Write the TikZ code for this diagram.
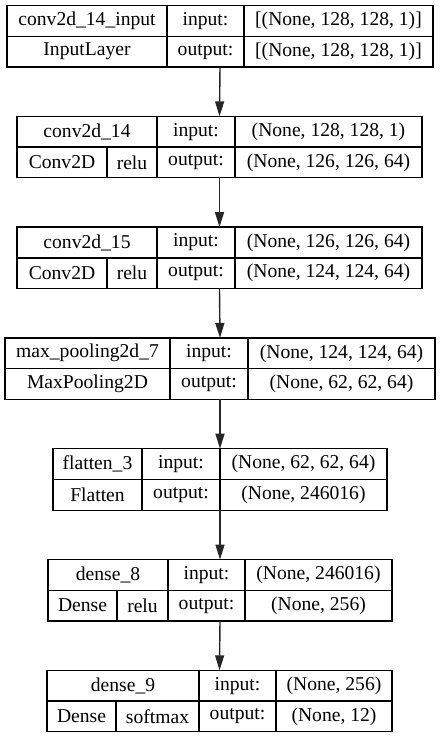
\documentclass[tikz,border=0pt]{standalone}
\usepackage{fontspec}
\setmainfont{Liberation Serif}
\usetikzlibrary{arrows.meta}

\tikzset{
  cell/.style={draw=black, line width=1.25pt, inner sep=0pt, outer sep=0pt,
               minimum height=30.75pt},
  frame/.style={draw=black, line width=1.25pt, inner sep=0pt, outer sep=0pt,
                minimum height=61.5pt},
  flow/.style={draw=black!85, line width=1.4pt, -{Triangle[length=15pt,width=9pt]}}
}

\begin{document}
\begin{tikzpicture}[x=1pt, y=-1pt, font=\rmfamily\fontsize{19.6}{22}\selectfont]
\useasboundingbox (0,0) rectangle (440,737);
%\draw [lightgray](0,0) grid[step=20] (440,737);

% input layer
\node [frame, minimum width=426pt] (inp) at (220,36.25){};
\node [cell, minimum width=160pt] (inp-n) at ( 87,20.9){conv2d\_14\_input};
\node [cell, minimum width= 77pt] (inp-i) at (205.5,20.9){input:};
\node [cell, minimum width=189pt] (inp-is) at (338.5,20.9){[(None, 128, 128, 1)]};
\node [cell, minimum width=160pt] (inp-t) at ( 87,51.6){InputLayer};
\node [cell, minimum width= 77pt] (inp-o) at (205.5,51.6){output:};
\node [cell, minimum width=189pt] (inp-os) at (338.5,51.6){[(None, 128, 128, 1)]};

% conv2d_14
\node [frame, minimum width=405pt] (cva) at (219.5,147.05){};
\node [cell, minimum width=140pt] (cva-n) at ( 87,131.7){conv2d\_14};
\node [cell, minimum width= 78pt] (cva-i) at (196,131.7){input:};
\node [cell, minimum width=187pt] (cva-is) at (328.5,131.7){(None, 128, 128, 1)};
\node [cell, minimum width= 90pt] (cva-t) at ( 62,162.4){Conv2D};
\node [cell, minimum width= 50pt] (cva-a) at (132,162.4){relu};
\node [cell, minimum width= 78pt] (cva-o) at (196,162.4){output:};
\node [cell, minimum width=187pt] (cva-os) at (328.5,162.4){(None, 126, 126, 64)};

% conv2d_15
\node [frame, minimum width=405pt] (cvb) at (219.5,257.85){};
\node [cell, minimum width=140pt] (cvb-n) at ( 87,242.5){conv2d\_15};
\node [cell, minimum width= 78pt] (cvb-i) at (196,242.5){input:};
\node [cell, minimum width=187pt] (cvb-is) at (328.5,242.5){(None, 126, 126, 64)};
\node [cell, minimum width= 90pt] (cvb-t) at ( 62,273.2){Conv2D};
\node [cell, minimum width= 50pt] (cvb-a) at (132,273.2){relu};
\node [cell, minimum width= 78pt] (cvb-o) at (196,273.2){output:};
\node [cell, minimum width=187pt] (cvb-os) at (328.5,273.2){(None, 124, 124, 64)};

% max_pooling2d_7
\node [frame, minimum width=430pt] (pool) at (220,368.65){};
\node [cell, minimum width=165pt] (pool-n) at ( 87.5,353.3){max\_pooling2d\_7};
\node [cell, minimum width= 78pt] (pool-i) at (209,353.3){input:};
\node [cell, minimum width=187pt] (pool-is) at (341.5,353.3){(None, 124, 124, 64)};
\node [cell, minimum width=165pt] (pool-t) at ( 87.5,384.0){MaxPooling2D};
\node [cell, minimum width= 78pt] (pool-o) at (209,384.0){output:};
\node [cell, minimum width=187pt] (pool-os) at (341.5,384.0){(None, 62, 62, 64)};

% flatten_3
\node [frame, minimum width=334pt] (flat) at (220,479.45){};
\node [cell, minimum width= 89pt] (flat-n) at ( 97.5,464.1){flatten\_3};
\node [cell, minimum width= 78pt] (flat-i) at (181,464.1){input:};
\node [cell, minimum width=167pt] (flat-is) at (303.5,464.1){(None, 62, 62, 64)};
\node [cell, minimum width= 89pt] (flat-t) at ( 97.5,494.8){Flatten};
\node [cell, minimum width= 78pt] (flat-o) at (181,494.8){output:};
\node [cell, minimum width=167pt] (flat-os) at (303.5,494.8){(None, 246016)};

% dense_8
\node [frame, minimum width=344pt] (dsa) at (220,590.25){};
\node [cell, minimum width=120pt] (dsa-n) at (108,574.9){dense\_8};
\node [cell, minimum width= 77pt] (dsa-i) at (206.5,574.9){input:};
\node [cell, minimum width=147pt] (dsa-is) at (318.5,574.9){(None, 246016)};
\node [cell, minimum width= 69pt] (dsa-t) at ( 82.5,605.6){Dense};
\node [cell, minimum width= 51pt] (dsa-a) at (142.5,605.6){relu};
\node [cell, minimum width= 77pt] (dsa-o) at (206.5,605.6){output:};
\node [cell, minimum width=147pt] (dsa-os) at (318.5,605.6){(None, 256)};

% dense_9
\node [frame, minimum width=345pt] (dsb) at (219.5,701.05){};
\node [cell, minimum width=152pt] (dsb-n) at (123,685.7){dense\_9};
\node [cell, minimum width= 77pt] (dsb-i) at (237.5,685.7){input:};
\node [cell, minimum width=116pt] (dsb-is) at (334,685.7){(None, 256)};
\node [cell, minimum width= 69pt] (dsb-t) at ( 81.5,716.4){Dense};
\node [cell, minimum width= 83pt] (dsb-a) at (157.5,716.4){softmax};
\node [cell, minimum width= 77pt] (dsb-o) at (237.5,716.4){output:};
\node [cell, minimum width=116pt] (dsb-os) at (334,716.4){(None, 12)};

\draw [flow] (inp.south) -- (cva.north);
\draw [flow] (cva.south) -- (cvb.north);
\draw [flow] (cvb.south) -- (pool.north);
\draw [flow] (pool.south) -- (flat.north);
\draw [flow] (flat.south) -- (dsa.north);
\draw [flow] (dsa.south) -- (dsb.north);
\end{tikzpicture}
\end{document}
